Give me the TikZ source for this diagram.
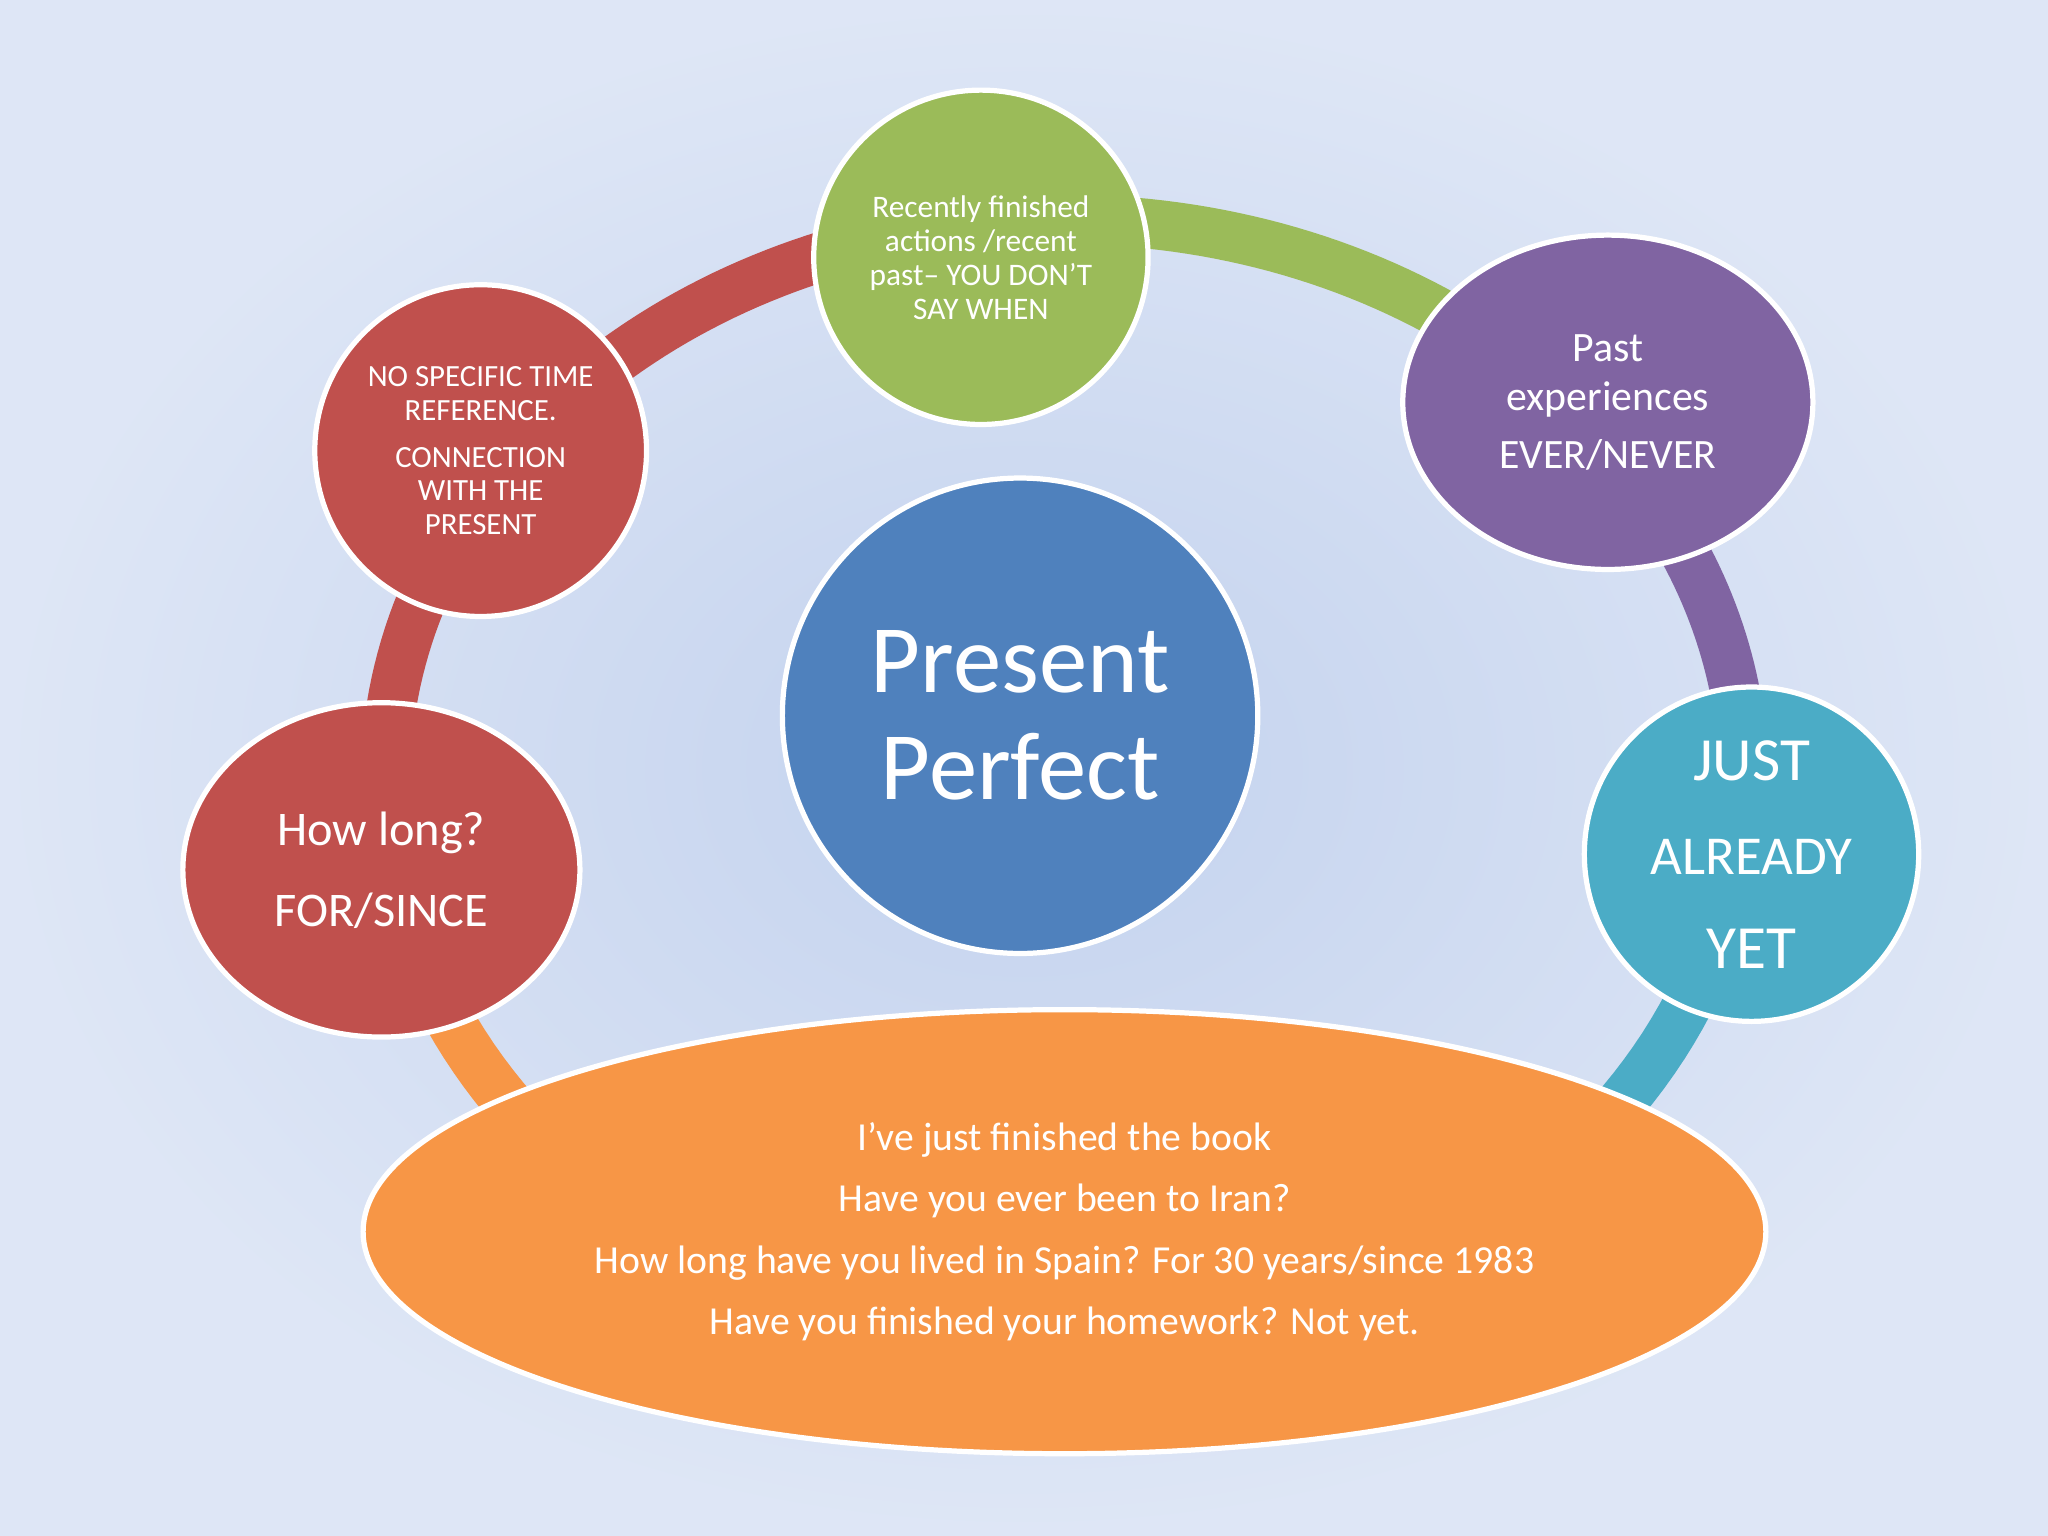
\documentclass[tikz,border=0pt]{standalone}
\usepackage{fontspec}
\setmainfont{Carlito}
\usetikzlibrary{shapes.geometric}
\definecolor{bgc}{HTML}{C3D2EE}
\definecolor{gr}{HTML}{9BBB59}
\definecolor{rd}{HTML}{C0504D}
\definecolor{pu}{HTML}{8064A2}
\definecolor{tl}{HTML}{4BACC6}
\definecolor{bl}{HTML}{4F81BD}
\definecolor{og}{HTML}{F79646}
\tikzset{bub/.style={ellipse,draw=white,line width=2pt,text=white,align=center,inner sep=0pt},
ring/.style={line width=19pt}}
\begin{document}
\begin{tikzpicture}[x=0.5pt,y=-0.5pt]
\path[inner color=bgc,outer color=bgc!55!white] (0,0) rectangle (1568,1176);
\useasboundingbox (0,0) rectangle (1568,1176);
\draw[ring,rd] plot[domain=97:193,samples=80] ({815+520*cos(\x)},{598-430*sin(\x)});
\draw[ring,og] plot[domain=190:270,samples=50] ({815+520*cos(\x)},{598-430*sin(\x)});
\draw[ring,tl] plot[domain=270:352,samples=50] ({815+520*cos(\x)},{598-430*sin(\x)});
\draw[ring,pu] plot[domain=350:398,samples=50] ({815+520*cos(\x)},{598-430*sin(\x)});
\draw[ring,gr] plot[domain=37:98,samples=50] ({815+520*cos(\x)},{598-430*sin(\x)});
\node[bub,fill=gr,minimum width=128pt,minimum height=128pt,font=\fontsize{12}{13}\selectfont] (g) at (751,197) {Recently finished\\actions /recent\\past-- YOU DON'T\\SAY WHEN};
\node[bub,fill=rd,minimum width=127pt,minimum height=127pt,font=\fontsize{11.8}{13}\selectfont] (r1) at (368,345) {NO SPECIFIC TIME\\REFERENCE.\\[5pt]CONNECTION\\WITH THE\\PRESENT};
\node[bub,fill=pu,minimum width=157pt,minimum height=128pt,font=\fontsize{16}{19}\selectfont] (p) at (1231,308) {Past\\experiences\\[3pt]EVER/NEVER};
\node[bub,fill=tl,minimum width=128pt,minimum height=128pt,font=\fontsize{21}{36}\selectfont] (t) at (1341,654) {{\fontsize{23.5}{36}\selectfont JUST}\\ALREADY\\{\fontsize{23.5}{36}\selectfont YET}};
\node[bub,fill=rd,minimum width=152pt,minimum height=128pt,font=\fontsize{18.5}{31}\selectfont] (r2) at (292,666) {How long?\\FOR/SINCE};
\node[bub,fill=bl,minimum width=182pt,minimum height=182pt,font=\fontsize{37}{41}\selectfont] (c) at (781,548) {Present\\Perfect};
\node[bub,fill=og,minimum width=537pt,minimum height=170pt,font=\fontsize{15.2}{23.5}\selectfont] (o) at (815,943) {I've just finished the book\\Have you ever been to Iran?\\How long have you lived in Spain? For 30 years/since 1983\\Have you finished your homework? Not yet.};
\end{tikzpicture}
\end{document}
